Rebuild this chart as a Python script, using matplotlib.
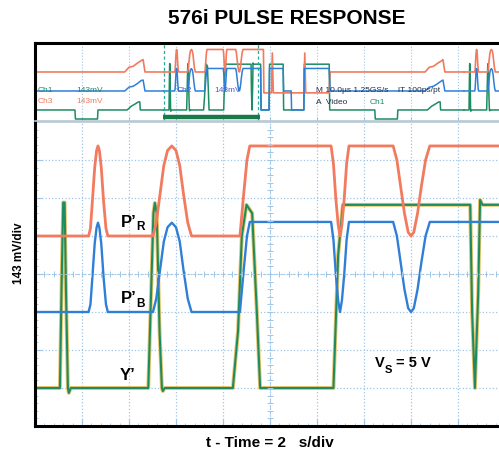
import numpy as np
import matplotlib as mpl
mpl.use('Agg')
import matplotlib.pyplot as plt

plt.rcParams['font.family'] = ['Liberation Sans', 'DejaVu Sans']

# --- main window traces, x and y in scope divisions (10 x 8)

pr_x = [0, 1.14, 1.18, 1.22, 1.27, 1.31, 1.34, 1.37, 1.41, 1.46, 1.51, 1.55,
        2.51, 2.58, 2.66, 2.74, 2.82, 2.91, 3.00, 3.08, 3.16, 3.25, 3.33,
        4.36, 4.44, 4.51, 4.57,
        6.30, 6.35, 6.40, 6.45, 6.49, 6.53, 6.58, 6.63, 6.68,
        7.62, 7.70, 7.78, 7.86, 7.94, 8.00, 8.06, 8.14, 8.22, 8.31, 8.40, 9.90]
pr_y = [5.0, 5.0, 5.2, 5.9, 6.8, 7.25, 7.37, 7.25, 6.8, 5.9, 5.2, 5.0,
        5.0, 5.35, 6.1, 6.85, 7.25, 7.37, 7.25, 6.85, 6.1, 5.35, 5.0,
        5.0, 6.1, 7.0, 7.37,
        7.37, 6.9, 6.0, 5.3, 5.0, 5.3, 6.0, 6.9, 7.37,
        7.37, 7.0, 6.3, 5.6, 5.1, 5.0, 5.1, 5.6, 6.3, 7.0, 7.37, 7.37]

pb_x = pr_x
pb_y = [3.0, 3.0, 3.2, 3.9, 4.8, 5.22, 5.35, 5.22, 4.8, 3.9, 3.2, 3.0,
        3.0, 3.35, 4.1, 4.85, 5.23, 5.35, 5.23, 4.85, 4.1, 3.35, 3.0,
        3.0, 4.1, 5.0, 5.37,
        5.37, 4.9, 4.0, 3.3, 3.0, 3.3, 4.0, 4.9, 5.37,
        5.37, 5.0, 4.3, 3.6, 3.1, 3.0, 3.1, 3.6, 4.3, 5.0, 5.37, 5.37]

y_x = [0, 0.53, 0.57, 0.60, 0.63, 0.66, 0.70, 0.72, 0.76,
       2.41, 2.47, 2.52, 2.55, 2.59, 2.65, 2.70, 2.72, 2.76,
       4.21, 4.32, 4.40, 4.50, 4.62, 4.72, 4.79, 4.83,
       6.35, 6.45, 6.55, 9.26, 9.30, 9.36, 9.43, 9.47, 9.52, 9.90]
y_y = [1.0, 1.0, 4.0, 5.88, 5.88, 3.5, 1.0, 0.87, 1.0,
       1.0, 3.5, 5.6, 5.87, 5.6, 2.5, 1.0, 0.92, 1.0,
       1.0, 2.5, 5.0, 5.82, 5.6, 3.0, 1.0, 1.0,
       1.0, 4.5, 5.82, 5.82, 3.0, 1.0, 3.5, 5.95, 5.82, 5.82]

# --- overview window (same divisions, parts outside the zoomed span)

ovr_pre_x = [0, 1.91, 2.0, 2.09, 2.17, 2.26, 2.30, 2.34, 2.745]
ovr_pre_r = [5.0, 5.0, 5.5, 5.6, 5.9, 6.2, 6.3, 5.0, 5.0]
ovr_pre_b = [3.0, 3.0, 3.4, 3.5, 3.75, 4.1, 4.15, 3.0, 3.0]
ovg_pre_x = [0, 0.85, 0.86, 1.33, 1.34, 1.96, 2.05, 2.12, 2.20, 2.23, 2.24, 2.745]
ovg_pre_y = [1.0, 1.0, 0.05, 0.05, 1.0, 1.0, 1.4, 1.6, 1.85, 1.85, 1.0, 1.0]

ovr_post_x = [4.745, 4.86, 4.87, 5.03, 5.05, 5.07, 5.72, 5.74, 5.76, 6.26, 6.28,
              8.30, 8.39, 8.48, 8.56, 8.66, 8.68, 8.72, 9.128]
ovr_post_r = [7.37, 7.37, 2.8, 2.8, 7.0, 2.8, 2.8, 7.0, 2.8, 2.8, 5.0,
              5.0, 5.5, 5.6, 5.9, 6.2, 6.3, 5.0, 5.0]
ovb_post_x = [4.745, 4.80, 4.81, 4.98, 4.99, 5.28, 5.29, 5.45, 5.46, 5.72, 5.73, 6.26, 6.28,
              8.30, 8.39, 8.48, 8.56, 8.66, 8.68, 8.72, 9.128]
ovb_post_y = [5.37, 5.37, 1.0, 1.0, 5.37, 5.37, 3.0, 3.0, 1.0, 1.0, 5.37, 5.37, 3.0,
              3.0, 3.4, 3.5, 3.75, 4.1, 4.15, 3.0, 3.0]
ovg_post_x = [4.745, 4.80, 4.81, 4.98, 4.99, 5.28, 5.29, 5.72, 5.73, 6.26, 6.27,
              7.23, 7.24, 7.71, 7.72, 8.35, 8.44, 8.51, 8.59, 8.62, 8.63, 9.128]
ovg_post_y = [5.82, 5.82, 1.0, 1.0, 5.82, 5.82, 1.0, 1.0, 5.82, 5.82, 1.0,
              1.0, 0.05, 0.05, 1.0, 1.0, 1.4, 1.6, 1.85, 1.85, 1.0, 1.0]

c_r = '#f27a5e'
c_b = '#2f7fd6'
c_g = '#1d8c62'
c_yel = '#e9c46a'
c_grid = '#9fc6e6'

W, H = 499, 457
fig = plt.figure(figsize=(W/100, H/100), dpi=100)

def px(x0, y0, w, h):
    return [x0/W, 1-(y0+h)/H, w/W, h/H]

ax = fig.add_axes(px(35, 122, 464, 304))
top = fig.add_axes(px(35, 43, 464, 78))

xmax = 464/47.

# --- main window
ax.plot(y_x, y_y, c=c_yel, lw=2.8, solid_joinstyle='round')
ax.plot(y_x, y_y, c=c_g, lw=1.5, solid_joinstyle='round')
ax.plot(pr_x, pr_y, c=c_r, lw=2.0, solid_joinstyle='round')
ax.plot(pb_x, pb_y, c=c_b, lw=1.7, solid_joinstyle='round')

ax.set_xlim(0, xmax)
ax.set_ylim(0, 8)
ax.set_xticks(np.arange(1, 10))
ax.set_yticks(np.arange(1, 8))
ax.set_xticks(np.arange(0, 10, 0.2), minor=True)
ax.set_yticks(np.arange(0, 8, 0.2), minor=True)
ax.tick_params(which='both', direction='in', colors=c_grid, labelleft=False, labelbottom=False)
ax.tick_params(which='major', length=5)
ax.tick_params(which='minor', length=2.5)
ax.grid(which='major', ls=':', color=c_grid, lw=0.9)
ax.axhline(4, color=c_grid, lw=0.6, ls=(0, (4, 3)))
ax.axvline(5, color=c_grid, lw=0.6, ls=(0, (4, 3)))
tk = np.arange(0, 10, 0.2)
ax.plot(tk, np.full(len(tk), 4), ls='none', marker='|', ms=5, mew=0.7, c=c_grid)
tk = np.arange(0, 8, 0.2)
ax.plot(np.full(len(tk), 5), tk, ls='none', marker='_', ms=5, mew=0.7, c=c_grid)
for s in ['left', 'bottom']:
    ax.spines[s].set_linewidth(2.2)
    ax.spines[s].set_color('black')
ax.spines['right'].set_visible(False)
ax.spines['top'].set_color('#b8c8d4')
ax.spines['top'].set_linewidth(1.2)

# --- overview window
top.plot(ovg_pre_x, ovg_pre_y, c=c_g, lw=1.1)
top.plot(ovg_post_x, ovg_post_y, c=c_g, lw=1.1)
top.plot(ovr_pre_x, ovr_pre_r, c=c_r, lw=1.2)
top.plot(ovr_post_x, ovr_post_r, c=c_r, lw=1.2)
top.plot(ovr_pre_x, ovr_pre_b, c=c_b, lw=1.1)
top.plot(ovb_post_x, ovb_post_y, c=c_b, lw=1.1)
for off in [2.745, 9.128]:
    top.plot(off + 0.2*np.array(y_x), y_y, c=c_g, lw=1.1)
    top.plot(off + 0.2*np.array(pr_x), pr_y, c=c_r, lw=1.2)
    top.plot(off + 0.2*np.array(pb_x), pb_y, c=c_b, lw=1.1)

top.axvline(2.745, color='#2aa89a', lw=0.9, ls=(0, (2.5, 2)))
top.axvline(4.745, color='#2aa89a', lw=0.9, ls=(0, (2.5, 2)))
top.plot([2.72, 4.79], [0.25, 0.25], c='#177a48', lw=3.2, solid_capstyle='butt')

top.set_xlim(0, xmax)
top.set_ylim(-0.16, 8.05)
top.set_xticks(np.arange(1, 10))
top.set_yticks([])
top.grid(axis='x', ls=':', color=c_grid, lw=0.8)
top.tick_params(axis='x', direction='in', colors=c_grid, labelbottom=False, length=3)
for s in ['left', 'top']:
    top.spines[s].set_linewidth(2.2)
    top.spines[s].set_color('black')
top.spines['right'].set_visible(False)
top.spines['bottom'].set_color('#b8c8d4')
top.spines['bottom'].set_linewidth(1.2)

def ftext(x, y, s, **kw):
    fig.text(x/W, 1-y/H, s, **kw)

ftext(38, 92, 'Ch1', fontsize=6, color=c_g)
ftext(76, 92, '143mV', fontsize=6, color=c_g)
ftext(38, 103, 'Ch3', fontsize=6, color=c_r)
ftext(76, 103, '143mV', fontsize=6, color=c_r)
ftext(177, 92, 'Ch2', fontsize=6, color='#4a63c8')
ftext(214, 92, '143mV', fontsize=6, color='#4a63c8')
ftext(316, 92, 'M 10.0\u00b5s 1.25GS/s    IT 100ps/pt', fontsize=6, color='#23304a')
ftext(316, 104, 'A  Video', fontsize=6, color='#23304a')
ftext(370, 104, 'Ch1', fontsize=6, color=c_g)

# --- labels
bold = dict(fontweight='bold', color='black')
ftext(287, 24, '576i PULSE RESPONSE', fontsize=15, ha='center', **bold)
ftext(19, 253, '143 mV/div', fontsize=8.5, rotation=90, ha='center', va='center', **bold)
ftext(270, 447, 't - Time = 2   s/div', fontsize=11, ha='center', **bold)

ftext(121, 227, "P\u2019", fontsize=12, **bold)
ftext(136, 230, 'R', fontsize=8.5, **bold)
ftext(121, 303, "P\u2019", fontsize=12, **bold)
ftext(136, 307, 'B', fontsize=8.5, **bold)
ftext(120, 380, "Y\u2019", fontsize=12, **bold)
ftext(375, 367, 'V', fontsize=10.5, **bold)
ftext(385, 373, 'S', fontsize=8, **bold)
ftext(396, 367, '= 5 V', fontsize=10.5, **bold)

fig.savefig('out.png', dpi=100)
